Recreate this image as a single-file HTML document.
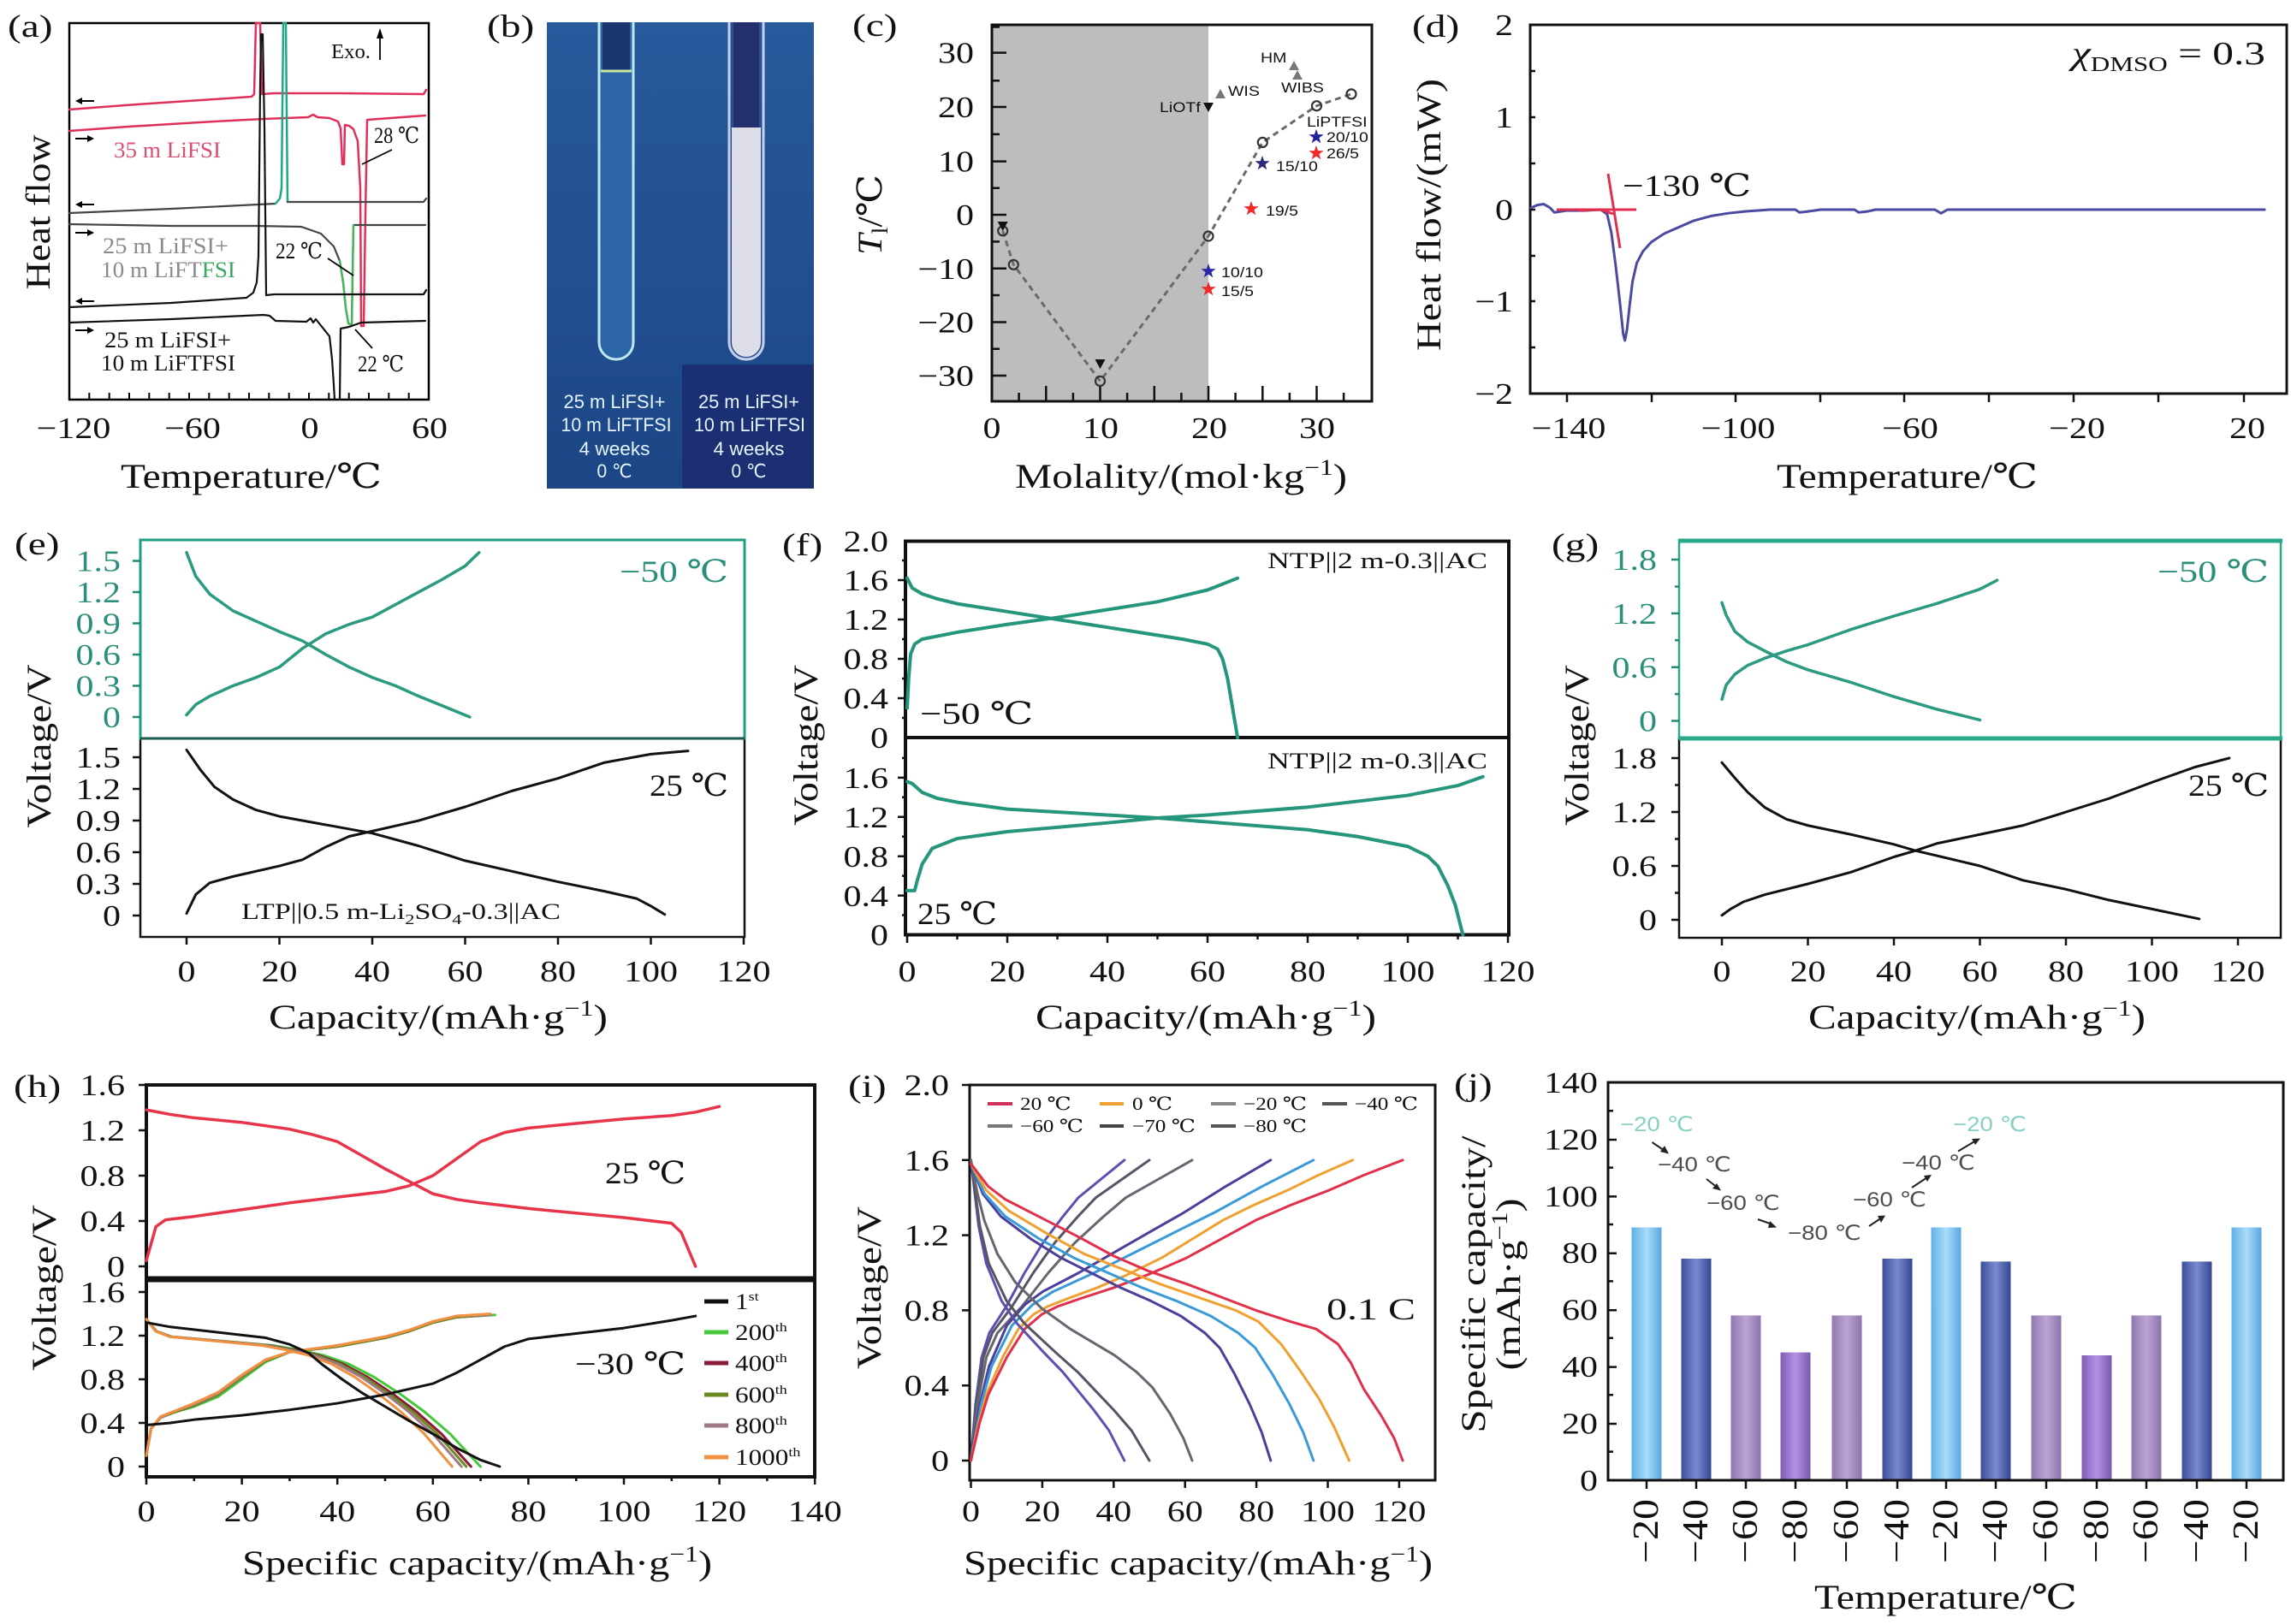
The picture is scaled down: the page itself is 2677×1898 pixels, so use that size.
<!DOCTYPE html>
<html><head><meta charset="utf-8">
<style>
html,body{margin:0;padding:0;background:#fff}
svg{display:block}
.t{font-family:"Liberation Serif","DejaVu Serif","Noto Serif CJK SC",serif;fill:#111}
.tk{font-size:35px}
.ax{font-size:40px}
.pl{font-size:37px}
.s{font-family:"Liberation Sans","DejaVu Sans","Noto Sans CJK SC",sans-serif}
.c{fill:none;stroke-linejoin:round;stroke-linecap:round;vector-effect:non-scaling-stroke}
.p{fill:none;stroke-linejoin:round;stroke-linecap:round}
</style></head><body>
<svg xmlns="http://www.w3.org/2000/svg" width="2677" height="1898" viewBox="0 0 2677 1898">
<defs>
<linearGradient id="bg" x1="0" y1="0" x2="0" y2="1"><stop offset="0" stop-color="#275a9c"/><stop offset="1" stop-color="#1c4686"/></linearGradient>
<linearGradient id="lb" x1="0" y1="0" x2="1" y2="0"><stop offset="0" stop-color="#5fb0e6"/><stop offset=".5" stop-color="#a9dcf8"/><stop offset="1" stop-color="#5aa6e0"/></linearGradient>
<linearGradient id="db" x1="0" y1="0" x2="1" y2="0"><stop offset="0" stop-color="#3c4f9c"/><stop offset=".5" stop-color="#7a8ad0"/><stop offset="1" stop-color="#34478f"/></linearGradient>
<linearGradient id="mv" x1="0" y1="0" x2="1" y2="0"><stop offset="0" stop-color="#9078b0"/><stop offset=".5" stop-color="#bba4d4"/><stop offset="1" stop-color="#8c74ad"/></linearGradient>
<linearGradient id="pp" x1="0" y1="0" x2="1" y2="0"><stop offset="0" stop-color="#7e5eb6"/><stop offset=".5" stop-color="#b292e0"/><stop offset="1" stop-color="#785aae"/></linearGradient>
<path id="star" d="M0,-9 L2.12,-2.91 L8.56,-2.78 L3.42,1.11 L5.29,7.28 L0,3.6 L-5.29,7.28 L-3.42,1.11 L-8.56,-2.78 L-2.12,-2.91 Z"/>
</defs>
<rect width="2677" height="1898" fill="#fff"/>

<!-- ================= (a) ================= -->
<g class="t">
<text class="pl" transform="translate(9 43) scale(1.28 1)">(a)</text>
<rect x="81" y="27" width="420" height="440" fill="none" stroke="#000" stroke-width="2.5"/>
<path d="M104.3 467V459M127.7 467V459M151 467V459M174.3 467V459M197.7 467V459M221 467V459M244.3 467V459M267.7 467V459M291 467V459M314.3 467V459M337.7 467V459M361 467V459M384.3 467V459M407.7 467V459M431 467V459M454.3 467V459M477.7 467V459" stroke="#000" stroke-width="2"/>
<polyline class="p" stroke="#e0305a" stroke-width="2.5" points="81,128 160,122 250,116 294,113 297,110 299,27 304,27 306,110 320,109 400,109 495,110 498,105"/>
<polyline class="p" stroke="#e0305a" stroke-width="2.5" points="81,153 150,148 250,142 308,139 360,137 366,134 371,137 385,138 395,142 398,150 400,192 402,192 403,146 408,147 413,151 418,165 421,220 422,381 425,381 427,250 429,140 497,135"/>
<polyline class="p" stroke="#444" stroke-width="2.2" points="81,249 200,244 322,238"/>
<polyline class="p" stroke="#1fa884" stroke-width="2.5" points="322,238 327,232 329,220 331,27 334,27 336,236"/>
<polyline class="p" stroke="#444" stroke-width="2.2" points="336,236 495,236 498,232"/>
<polyline class="p" stroke="#444" stroke-width="2.2" points="81,262 200,264 300,264 352,265 375,273 390,288 397,305 401,330 404,360 407,378 411,380 413,263 497,263"/>
<polyline class="p" stroke="#45b45a" stroke-width="2.5" points="397,305 401,330 404,360 407,378 411,380 413,263"/>
<polyline class="p" stroke="#111" stroke-width="2.2" points="81,359 200,354 288,348 296,342 300,330 302,300 304,100 305,40 307,40 309,150 311,345 320,344 495,344 498,339"/>
<polyline class="p" stroke="#111" stroke-width="2.2" points="81,377 200,373 308,368 315,369 322,375 358,376 363,372 366,377 369,373 373,378 385,393 388,420 390,450 391,467"/>
<polyline class="p" stroke="#111" stroke-width="2.2" points="397,467 398,384 408,382 422,377 497,375"/>
<path d="M458 175L423 192M383 302L413 322M415 385L435 407M444 70V42" stroke="#000" stroke-width="1.8" fill="none"/>
<polygon points="444,33 440,45 448,45" fill="#000"/>
<g stroke="#000" stroke-width="2"><path d="M93 118H110M93 239H110M93 352H110M88 162H105M88 272H105M88 386H105"/></g>
<g fill="#000"><polygon points="88,118 96,114 96,122"/><polygon points="88,239 96,235 96,243"/><polygon points="88,352 96,348 96,356"/><polygon points="110,162 102,158 102,166"/><polygon points="110,272 102,268 102,276"/><polygon points="110,386 102,382 102,390"/></g>
<text x="133" y="184" font-size="26" textLength="125" lengthAdjust="spacingAndGlyphs" fill="#d85070">35 m LiFSI</text>
<text x="120" y="296" font-size="26" textLength="147" lengthAdjust="spacingAndGlyphs" fill="#8a8a8a">25 m LiFSI+</text>
<text x="118" y="324" font-size="26" textLength="157" lengthAdjust="spacingAndGlyphs" fill="#8a8a8a">10 m LiFT<tspan fill="#3aa860">FSI</tspan></text>
<text x="122" y="406" font-size="26" textLength="148" lengthAdjust="spacingAndGlyphs">25 m LiFSI+</text>
<text x="118" y="433" font-size="26" textLength="157" lengthAdjust="spacingAndGlyphs">10 m LiFTFSI</text>
<text x="437" y="167" font-size="26" textLength="53" lengthAdjust="spacingAndGlyphs">28 ℃</text>
<text x="322" y="302" font-size="26" textLength="55" lengthAdjust="spacingAndGlyphs">22 ℃</text>
<text x="418" y="434" font-size="26" textLength="54" lengthAdjust="spacingAndGlyphs">22 ℃</text>
<text x="387" y="68" font-size="24" textLength="46" lengthAdjust="spacingAndGlyphs">Exo.</text>
<text class="tk" text-anchor="middle" transform="translate(86 512) scale(1.2 1)">−120</text>
<text class="tk" text-anchor="middle" transform="translate(225 512) scale(1.2 1)">−60</text>
<text class="tk" text-anchor="middle" transform="translate(362 512) scale(1.2 1)">0</text>
<text class="tk" text-anchor="middle" transform="translate(502 512) scale(1.2 1)">60</text>
<text class="ax" x="141" y="570" textLength="305" lengthAdjust="spacingAndGlyphs">Temperature/℃</text>
<text class="ax" text-anchor="middle" textLength="181" lengthAdjust="spacingAndGlyphs" transform="translate(58 248) rotate(-90)">Heat flow</text>
</g>

<!-- ================= (b) ================= -->
<g>
<text class="t pl" transform="translate(569 43) scale(1.28 1)">(b)</text>
<rect x="639" y="26" width="312" height="545" fill="url(#bg)"/>
<rect x="797" y="426" width="154" height="145" fill="#1b2c6e" opacity=".85"/>
<path d="M700,26 V400 A20,20 0 0 0 740,400 V26" fill="#2d66a6" stroke="#bfe9ef" stroke-width="3"/>
<rect x="704" y="26" width="32" height="57" fill="#1a3570"/>
<line x1="702" y1="83" x2="738" y2="83" stroke="#c8e8a0" stroke-width="3"/>
<path d="M852,26 V400 A20,20 0 0 0 892,400 V26" fill="#2a4f98" stroke="#c8d0ec" stroke-width="3"/>
<rect x="857" y="26" width="30" height="123" fill="#24306e"/>
<path d="M855,149 V400 A17,17 0 0 0 889,400 V149 Z" fill="#dcdde6"/>
<g class="s" fill="#e6f4ff" font-size="22" text-anchor="middle">
<text x="718" y="477" textLength="119" lengthAdjust="spacingAndGlyphs">25 m LiFSI+</text>
<text x="720" y="504" textLength="129" lengthAdjust="spacingAndGlyphs">10 m LiFTFSI</text>
<text x="718" y="532" textLength="83" lengthAdjust="spacingAndGlyphs">4 weeks</text>
<text x="718" y="558" textLength="41" lengthAdjust="spacingAndGlyphs">0 ℃</text>
<text x="875" y="477" textLength="118" lengthAdjust="spacingAndGlyphs">25 m LiFSI+</text>
<text x="876" y="504" textLength="130" lengthAdjust="spacingAndGlyphs">10 m LiFTFSI</text>
<text x="875" y="532" textLength="83" lengthAdjust="spacingAndGlyphs">4 weeks</text>
<text x="875" y="558" textLength="41" lengthAdjust="spacingAndGlyphs">0 ℃</text>
</g>
</g>

<!-- ================= (c) ================= -->
<g class="t">
<text class="pl" transform="translate(996 42) scale(1.28 1)">(c)</text>
<rect x="1159" y="29" width="253" height="440" fill="#bdbdbd"/>
<rect x="1159" y="29" width="444" height="440" fill="none" stroke="#111" stroke-width="3"/>
<path d="M1159 61.6H1176M1159 125H1176M1159 188.6H1176M1159 251H1176M1159 313.8H1176M1159 376.5H1176M1159 439H1176M1159 31.5H1168M1159 94.3H1168M1159 156.9H1168M1159 219.7H1168M1159 282.4H1168M1159 345H1168M1159 407.8H1168" stroke="#111" stroke-width="2.5"/>
<path d="M1190.6 469V459M1222.3 469V451M1253.9 469V459M1285.5 469V451M1317.1 469V459M1348.8 469V451M1380.4 469V459M1412 469V451M1443.6 469V459M1475.3 469V451M1506.9 469V459M1538.5 469V451M1570.1 469V459" stroke="#111" stroke-width="2.5"/>
<polyline points="1171.7,269.8 1184.3,309.3 1285.5,445.4 1412,276 1475.3,166.4 1538.5,123.7 1579,109.9" fill="none" stroke="#6a6a6a" stroke-width="3" stroke-dasharray="7,5"/>
<g fill="none" stroke="#333" stroke-width="2.2">
<circle cx="1171.7" cy="269.8" r="5.5"/><circle cx="1184.3" cy="309.3" r="5.5"/><circle cx="1285.5" cy="445.4" r="5.5"/><circle cx="1412" cy="276" r="5.5"/><circle cx="1475.3" cy="166.4" r="5.5"/><circle cx="1538.5" cy="123.7" r="5.5"/><circle cx="1579" cy="109.9" r="5.5"/>
</g>
<g fill="#111"><path d="M1165.7,259 h12 l-6,11 z"/><path d="M1279.5,420 h12 l-6,11 z"/><path d="M1406,120 h12 l-6,11 z"/></g>
<g fill="#777"><path d="M1420,115 h12 l-6,-11 z"/><path d="M1506,82 h12 l-6,-11 z"/><path d="M1510,93 h12 l-6,-11 z"/></g>
<use href="#star" x="1538" y="160" fill="#22229a"/>
<use href="#star" x="1538" y="179" fill="#f02828"/>
<use href="#star" x="1475" y="191" fill="#2a2a78"/>
<use href="#star" x="1462" y="244" fill="#f02828"/>
<use href="#star" x="1412" y="317" fill="#2828a8"/>
<use href="#star" x="1412" y="338" fill="#f02828"/>
<g class="s" font-size="17" fill="#111">
<text transform="translate(1473 73) scale(1.15 1)">HM</text>
<text transform="translate(1435 112) scale(1.15 1)">WIS</text>
<text transform="translate(1497 108) scale(1.15 1)">WIBS</text>
<text transform="translate(1355 131) scale(1.15 1)">LiOTf</text>
<text transform="translate(1527 148) scale(1.15 1)">LiPTFSI</text>
<text transform="translate(1550 166) scale(1.15 1)">20/10</text>
<text transform="translate(1550 185) scale(1.15 1)">26/5</text>
<text transform="translate(1491 200) scale(1.15 1)">15/10</text>
<text transform="translate(1479 252) scale(1.15 1)">19/5</text>
<text transform="translate(1427 324) scale(1.15 1)">10/10</text>
<text transform="translate(1427 346) scale(1.15 1)">15/5</text>
</g>
<g class="tk" text-anchor="end">
<text transform="translate(1138 73.6) scale(1.2 1)">30</text>
<text transform="translate(1138 137) scale(1.2 1)">20</text>
<text transform="translate(1138 200.6) scale(1.2 1)">10</text>
<text transform="translate(1138 263) scale(1.2 1)">0</text>
<text transform="translate(1138 325.8) scale(1.2 1)">−10</text>
<text transform="translate(1138 388.5) scale(1.2 1)">−20</text>
<text transform="translate(1138 451) scale(1.2 1)">−30</text>
</g>
<g class="tk" text-anchor="middle">
<text transform="translate(1159 512) scale(1.2 1)">0</text>
<text transform="translate(1286 512) scale(1.2 1)">10</text>
<text transform="translate(1413 512) scale(1.2 1)">20</text>
<text transform="translate(1539 512) scale(1.2 1)">30</text>
</g>
<text class="ax" x="1186" y="570" textLength="388" lengthAdjust="spacingAndGlyphs">Molality/(mol·kg<tspan font-size="26" dy="-15">−1</tspan><tspan dy="15">)</tspan></text>
<text class="ax" text-anchor="middle" textLength="94" lengthAdjust="spacingAndGlyphs" transform="translate(1030 251) rotate(-90)"><tspan font-style="italic">T</tspan><tspan font-size="26" dy="7">l</tspan><tspan dy="-7">/℃</tspan></text>
</g>

<!-- ================= (d) ================= -->
<g class="t">
<text class="pl" transform="translate(1650 43) scale(1.28 1)">(d)</text>
<rect x="1788" y="29" width="884" height="431" fill="none" stroke="#111" stroke-width="3"/>
<path d="M1831 460V470M1930 460V470M2028 460V470M2127 460V470M2225 460V470M2324 460V470M2423 460V470M2522 460V470M2622 460V470M1788 83H1794M1788 137H1794M1788 191H1794M1788 245H1794M1788 299H1794M1788 352H1794M1788 406H1794" stroke="#111" stroke-width="2.5"/>
<g transform="matrix(4.94 0 0 -107.7 2522.6 245)">
<polyline class="c" stroke="#4a4aa0" stroke-width="3" points="-148.5,.02 -147,.05 -145.5,.06 -144,.02 -143,-.03 -140,-.01 -136,-.01 -132,0 -130.5,-.05 -129.5,-.25 -128.5,-.6 -127.5,-1 -126.7,-1.35 -126.3,-1.42 -125.8,-1.3 -125.2,-1.05 -124.5,-.78 -123.5,-.58 -122,-.45 -120,-.35 -117,-.26 -114,-.2 -110,-.12 -106,-.07 -102,-.04 -98,-.02 -92,0 -86,0 -85,-.03 -83,-.02 -80,0 -72,0 -71,-.03 -69,-.02 -67,0 -53,0 -51.5,-.04 -50,0 -20,0 0,0 25,0"/>
</g>
<path d="M1819 245H1912M1879 203L1893 290M1845 246L1870 245L1885 250" stroke="#e03050" stroke-width="3" fill="none"/>
<g class="tk" text-anchor="end">
<text transform="translate(1768 41) scale(1.2 1)">2</text>
<text transform="translate(1768 149) scale(1.2 1)">1</text>
<text transform="translate(1768 257) scale(1.2 1)">0</text>
<text transform="translate(1768 364) scale(1.2 1)">−1</text>
<text transform="translate(1768 472) scale(1.2 1)">−2</text>
</g>
<g class="tk" text-anchor="middle">
<text transform="translate(1833 512) scale(1.2 1)">−140</text>
<text transform="translate(2031 512) scale(1.2 1)">−100</text>
<text transform="translate(2232 512) scale(1.2 1)">−60</text>
<text transform="translate(2427 512) scale(1.2 1)">−20</text>
<text transform="translate(2626 512) scale(1.2 1)">20</text>
</g>
<text x="1896" y="229" font-size="36" textLength="150" lengthAdjust="spacingAndGlyphs">−130 ℃</text>
<text x="2421" y="75" font-size="38" textLength="226" lengthAdjust="spacingAndGlyphs"><tspan font-style="italic">χ</tspan><tspan font-size="24" dy="8">DMSO</tspan><tspan dy="-8"> = 0.3</tspan></text>
<text class="ax" x="2076" y="570" textLength="305" lengthAdjust="spacingAndGlyphs">Temperature/℃</text>
<text class="ax" text-anchor="middle" textLength="318" lengthAdjust="spacingAndGlyphs" transform="translate(1683 251) rotate(-90)">Heat flow/(mW)</text>
</g>

<!-- ================= (e) ================= -->
<g class="t">
<text class="pl" transform="translate(17 648) scale(1.28 1)">(e)</text>
<rect x="164" y="863" width="706" height="232" fill="none" stroke="#111" stroke-width="2.5"/>
<rect x="164" y="631" width="706" height="232" fill="none" stroke="#1f9e83" stroke-width="3"/>
<line x1="164" y1="863" x2="870" y2="863" stroke="#1a5a4e" stroke-width="3"/>
<path d="M155 655.5H164M155 692H164M155 728.5H164M155 765H164M155 801.5H164M155 838H164" stroke="#1f8a74" stroke-width="2.5"/>
<path d="M155 885H164M155 922H164M155 959H164M155 996H164M155 1033H164M155 1070H164M218 1095V1104M326.5 1095V1104M435 1095V1104M543.5 1095V1104M652 1095V1104M760.5 1095V1104M869 1095V1104" stroke="#111" stroke-width="2.5"/>
<g transform="matrix(5.425 0 0 -121.7 218 838)">
<polyline class="c" stroke="#2a9a80" stroke-width="3.5" points="0,1.58 2,1.35 5,1.18 10,1.02 15,.92 20,.82 25,.73 30,.6 35,.48 40,.38 45,.3 50,.2 55,.11 61,0"/>
<polyline class="c" stroke="#2a9a80" stroke-width="3.5" points="0,.02 2,.12 5,.2 10,.3 15,.38 20,.48 25,.66 30,.8 35,.89 40,.96 45,1.08 50,1.2 55,1.32 60,1.45 63,1.58"/>
</g>
<g transform="matrix(5.425 0 0 -123.3 218 1070)">
<polyline class="c" stroke="#111" stroke-width="3" points="0,1.57 3,1.38 6,1.22 10,1.1 15,1 20,.94 30,.86 40,.78 50,.66 60,.52 70,.42 80,.32 90,.23 97,.16 100,.09 103,.01"/>
<polyline class="c" stroke="#111" stroke-width="3" points="0,.02 2,.2 5,.31 10,.37 20,.47 25,.53 30,.65 35,.75 40,.8 50,.9 60,1.03 70,1.18 80,1.3 90,1.45 100,1.53 108,1.56"/>
</g>
<g class="tk" text-anchor="end" fill="#2a8f7a">
<text transform="translate(141 667.5) scale(1.2 1)">1.5</text>
<text transform="translate(141 704) scale(1.2 1)">1.2</text>
<text transform="translate(141 740.5) scale(1.2 1)">0.9</text>
<text transform="translate(141 777) scale(1.2 1)">0.6</text>
<text transform="translate(141 813.5) scale(1.2 1)">0.3</text>
<text transform="translate(141 850) scale(1.2 1)">0</text>
</g>
<g class="tk" text-anchor="end">
<text transform="translate(141 897) scale(1.2 1)">1.5</text>
<text transform="translate(141 934) scale(1.2 1)">1.2</text>
<text transform="translate(141 971) scale(1.2 1)">0.9</text>
<text transform="translate(141 1008) scale(1.2 1)">0.6</text>
<text transform="translate(141 1045) scale(1.2 1)">0.3</text>
<text transform="translate(141 1082) scale(1.2 1)">0</text>
</g>
<g class="tk" text-anchor="middle">
<text transform="translate(218 1147) scale(1.2 1)">0</text>
<text transform="translate(326.5 1147) scale(1.2 1)">20</text>
<text transform="translate(435 1147) scale(1.2 1)">40</text>
<text transform="translate(543.5 1147) scale(1.2 1)">60</text>
<text transform="translate(652 1147) scale(1.2 1)">80</text>
<text transform="translate(760.5 1147) scale(1.2 1)">100</text>
<text transform="translate(869 1147) scale(1.2 1)">120</text>
</g>
<text x="724" y="680" font-size="36" textLength="127" lengthAdjust="spacingAndGlyphs" fill="#2a8f7a">−50 ℃</text>
<text x="759" y="930" font-size="36" textLength="92" lengthAdjust="spacingAndGlyphs">25 ℃</text>
<text x="282" y="1074" font-size="26" textLength="373" lengthAdjust="spacingAndGlyphs">LTP||0.5 m-Li<tspan font-size="17" dy="6">2</tspan><tspan dy="-6">SO</tspan><tspan font-size="17" dy="6">4</tspan><tspan dy="-6">-0.3||AC</tspan></text>
<text class="ax" x="314" y="1202" textLength="396" lengthAdjust="spacingAndGlyphs">Capacity/(mAh·g<tspan font-size="26" dy="-15">−1</tspan><tspan dy="15">)</tspan></text>
<text class="ax" text-anchor="middle" textLength="191" lengthAdjust="spacingAndGlyphs" transform="translate(59 872) rotate(-90)">Voltage/V</text>
</g>

<!-- ================= (f) ================= -->
<g class="t">
<text class="pl" transform="translate(914 649) scale(1.28 1)">(f)</text>
<rect x="1058" y="632.5" width="705" height="229.5" fill="none" stroke="#111" stroke-width="4"/>
<rect x="1058" y="862" width="705" height="230.5" fill="none" stroke="#111" stroke-width="4"/>
<path d="M1049 678H1058M1049 724H1058M1049 770H1058M1049 816H1058M1049 908.9H1058M1049 954.8H1058M1049 1000.7H1058M1049 1046.6H1058M1054 655H1058M1054 701H1058M1054 747H1058M1054 793H1058M1054 839H1058M1054 885.9H1058M1054 931.8H1058M1054 977.7H1058M1054 1023.6H1058M1054 1069.5H1058" stroke="#111" stroke-width="2.5"/>
<path d="M1060 1092.5V1102M1177 1092.5V1102M1294 1092.5V1102M1411 1092.5V1102M1528 1092.5V1102M1645 1092.5V1102M1762 1092.5V1102M1118.5 1092.5V1098M1235.5 1092.5V1098M1352.5 1092.5V1098M1469.5 1092.5V1098M1586.5 1092.5V1098M1703.5 1092.5V1098" stroke="#111" stroke-width="2.5"/>
<g transform="matrix(5.85 0 0 -115 1060 862)">
<polyline class="c" stroke="#25957b" stroke-width="4" points="0,.3 .3,.6 .7,.85 1.5,.95 3,1 10,1.07 20,1.15 30,1.22 40,1.3 50,1.38 60,1.5 66,1.62"/>
<polyline class="c" stroke="#25957b" stroke-width="4" points="0,1.62 1,1.52 3,1.46 6,1.41 10,1.36 20,1.28 30,1.2 40,1.12 50,1.04 55,1 60,.95 62,.9 63,.8 64,.6 65,.3 66,0"/>
</g>
<g transform="matrix(5.85 0 0 -114.75 1060 1092.5)">
<polyline class="c" stroke="#25957b" stroke-width="4" points="0,.45 1.5,.45 2,.55 3,.72 5,.88 10,.98 20,1.05 40,1.14 50,1.19 60,1.22 80,1.3 100,1.42 110,1.52 115,1.61"/>
<polyline class="c" stroke="#25957b" stroke-width="4" points="0,1.56 1,1.54 3,1.45 6,1.39 10,1.35 20,1.28 40,1.22 50,1.19 60,1.15 80,1.07 90,1 100,.9 104,.8 106,.7 108,.5 109.5,.3 111,0"/>
</g>
<g class="tk" text-anchor="end">
<text transform="translate(1038 644.5) scale(1.2 1)">2.0</text>
<text transform="translate(1038 690) scale(1.2 1)">1.6</text>
<text transform="translate(1038 736) scale(1.2 1)">1.2</text>
<text transform="translate(1038 782) scale(1.2 1)">0.8</text>
<text transform="translate(1038 828) scale(1.2 1)">0.4</text>
<text transform="translate(1038 874) scale(1.2 1)">0</text>
<text transform="translate(1038 921) scale(1.2 1)">1.6</text>
<text transform="translate(1038 967) scale(1.2 1)">1.2</text>
<text transform="translate(1038 1013) scale(1.2 1)">0.8</text>
<text transform="translate(1038 1059) scale(1.2 1)">0.4</text>
<text transform="translate(1038 1104.5) scale(1.2 1)">0</text>
</g>
<g class="tk" text-anchor="middle">
<text transform="translate(1060 1147) scale(1.2 1)">0</text>
<text transform="translate(1177 1147) scale(1.2 1)">20</text>
<text transform="translate(1294 1147) scale(1.2 1)">40</text>
<text transform="translate(1411 1147) scale(1.2 1)">60</text>
<text transform="translate(1528 1147) scale(1.2 1)">80</text>
<text transform="translate(1645 1147) scale(1.2 1)">100</text>
<text transform="translate(1762 1147) scale(1.2 1)">120</text>
</g>
<text x="1481" y="664" font-size="26" textLength="257" lengthAdjust="spacingAndGlyphs">NTP||2 m-0.3||AC</text>
<text x="1481" y="898" font-size="26" textLength="257" lengthAdjust="spacingAndGlyphs">NTP||2 m-0.3||AC</text>
<text x="1075" y="846" font-size="36" textLength="132" lengthAdjust="spacingAndGlyphs">−50 ℃</text>
<text x="1072" y="1080" font-size="36" textLength="93" lengthAdjust="spacingAndGlyphs">25 ℃</text>
<text class="ax" x="1210" y="1202" textLength="398" lengthAdjust="spacingAndGlyphs">Capacity/(mAh·g<tspan font-size="26" dy="-15">−1</tspan><tspan dy="15">)</tspan></text>
<text class="ax" text-anchor="middle" textLength="188" lengthAdjust="spacingAndGlyphs" transform="translate(955 871) rotate(-90)">Voltage/V</text>
</g>

<!-- ================= (g) ================= -->
<g class="t">
<text class="pl" transform="translate(1813 649) scale(1.28 1)">(g)</text>
<rect x="1962" y="863" width="703" height="233" fill="none" stroke="#111" stroke-width="2.5"/>
<rect x="1962" y="631" width="703" height="232" fill="none" stroke="#2aa88a" stroke-width="2.5"/>
<path d="M1962 632H2667M1962 863H2667" stroke="#2aa88a" stroke-width="5"/>
<path d="M1953 654H1962M1953 716.9H1962M1953 779.7H1962M1953 842.5H1962M1957 685.5H1962M1957 748.3H1962M1957 811.1H1962" stroke="#1f8a74" stroke-width="2.5"/>
<path d="M1953 886H1962M1953 949H1962M1953 1012H1962M1953 1075H1962M1957 917.5H1962M1957 980.5H1962M1957 1043.5H1962M2012 1096V1105M2112.5 1096V1105M2213 1096V1105M2313.5 1096V1105M2414 1096V1105M2514.5 1096V1105M2615 1096V1105" stroke="#111" stroke-width="2.5"/>
<g transform="matrix(5.025 0 0 -104.7 2012 842.5)">
<polyline class="c" stroke="#2a9a80" stroke-width="3.5" points="0,1.32 1,1.18 3,1 6,.88 10,.78 15,.66 20,.57 30,.43 40,.27 50,.13 60,.01"/>
<polyline class="c" stroke="#2a9a80" stroke-width="3.5" points="0,.24 1,.4 3,.52 6,.62 10,.7 15,.78 20,.85 30,1.02 40,1.17 50,1.31 60,1.47 64,1.57"/>
</g>
<g transform="matrix(5.025 0 0 -105 2012 1075)">
<polyline class="c" stroke="#111" stroke-width="3" points="0,1.75 3,1.58 6,1.42 10,1.25 15,1.12 20,1.05 30,.95 40,.84 45,.77 60,.6 70,.44 80,.34 90,.22 100,.12 111,.01"/>
<polyline class="c" stroke="#111" stroke-width="3" points="0,.05 2,.12 5,.2 10,.28 20,.4 30,.53 40,.7 45,.77 50,.85 60,.95 70,1.05 80,1.2 90,1.35 100,1.53 110,1.7 118,1.8"/>
</g>
<g class="tk" text-anchor="end" fill="#2a8f7a">
<text transform="translate(1936 666) scale(1.2 1)">1.8</text>
<text transform="translate(1936 729) scale(1.2 1)">1.2</text>
<text transform="translate(1936 792) scale(1.2 1)">0.6</text>
<text transform="translate(1936 854.5) scale(1.2 1)">0</text>
</g>
<g class="tk" text-anchor="end">
<text transform="translate(1936 898) scale(1.2 1)">1.8</text>
<text transform="translate(1936 961) scale(1.2 1)">1.2</text>
<text transform="translate(1936 1024) scale(1.2 1)">0.6</text>
<text transform="translate(1936 1087) scale(1.2 1)">0</text>
</g>
<g class="tk" text-anchor="middle">
<text transform="translate(2012 1147) scale(1.2 1)">0</text>
<text transform="translate(2112.5 1147) scale(1.2 1)">20</text>
<text transform="translate(2213 1147) scale(1.2 1)">40</text>
<text transform="translate(2313.5 1147) scale(1.2 1)">60</text>
<text transform="translate(2414 1147) scale(1.2 1)">80</text>
<text transform="translate(2514.5 1147) scale(1.2 1)">100</text>
<text transform="translate(2615 1147) scale(1.2 1)">120</text>
</g>
<text x="2521" y="680" font-size="36" textLength="130" lengthAdjust="spacingAndGlyphs" fill="#2a8f7a">−50 ℃</text>
<text x="2557" y="930" font-size="36" textLength="94" lengthAdjust="spacingAndGlyphs">25 ℃</text>
<text class="ax" x="2113" y="1202" textLength="394" lengthAdjust="spacingAndGlyphs">Capacity/(mAh·g<tspan font-size="26" dy="-15">−1</tspan><tspan dy="15">)</tspan></text>
<text class="ax" text-anchor="middle" textLength="188" lengthAdjust="spacingAndGlyphs" transform="translate(1856 871) rotate(-90)">Voltage/V</text>
</g>

<!-- ================= (h) ================= -->
<g class="t">
<text class="pl" transform="translate(16 1282) scale(1.28 1)">(h)</text>
<rect x="171" y="1268" width="781" height="458" fill="none" stroke="#111" stroke-width="4"/>
<line x1="171" y1="1495" x2="952" y2="1495" stroke="#111" stroke-width="7"/>
<path d="M162 1268H171M162 1321H171M162 1374H171M162 1427H171M162 1480H171M162 1510H171M162 1561H171M162 1612H171M162 1663H171M162 1714H171" stroke="#111" stroke-width="2.5"/>
<path d="M171 1726V1735M282.6 1726V1735M394.2 1726V1735M505.8 1726V1735M617.4 1726V1735M729 1726V1735M840.6 1726V1735M952.2 1726V1735M226.8 1726V1731M338.4 1726V1731M450 1726V1731M561.6 1726V1731M673.2 1726V1731M784.8 1726V1731M896.4 1726V1731" stroke="#111" stroke-width="2.5"/>
<g transform="matrix(5.58 0 0 -132.5 171 1480)">
<polyline class="c" stroke="#e8344a" stroke-width="3.5" points="0,1.38 5,1.34 10,1.31 20,1.27 30,1.21 35,1.16 40,1.1 45,.98 50,.86 55,.75 60,.64 65,.59 70,.56 80,.51 90,.47 100,.43 110,.38 112,.3 115,0"/>
<polyline class="c" stroke="#e8344a" stroke-width="3.5" points="0,.05 1,.2 2,.35 4,.41 10,.44 20,.5 30,.56 40,.61 50,.66 55,.71 60,.8 65,.95 70,1.1 75,1.18 80,1.22 90,1.26 100,1.3 110,1.33 115,1.36 120,1.41"/>
</g>
<g transform="matrix(5.58 0 0 -127.5 171 1714)">
<polyline class="c" stroke="#44c83a" stroke-width="3" points="0,.1 1,.35 3,.45 6,.5 10,.55 15,.64 20,.8 25,.96 30,1.05 40,1.1 50,1.18 55,1.24 60,1.32 65,1.37 73,1.39"/>
<polyline class="c" stroke="#8b1a3a" stroke-width="3" points="0,.1 1,.35 3,.45 6,.5 10,.56 15,.66 20,.82 25,.97 30,1.05 40,1.1 50,1.18 55,1.24 60,1.32 65,1.37 72,1.39"/>
<polyline class="c" stroke="#6a8a20" stroke-width="3" points="0,.1 1,.35 3,.45 6,.5 10,.56 15,.66 20,.82 25,.97 30,1.05 40,1.1 50,1.18 55,1.24 60,1.32 65,1.37 72,1.39"/>
<polyline class="c" stroke="#a07888" stroke-width="3" points="0,.1 1,.35 3,.45 6,.51 10,.57 15,.67 20,.83 25,.98 30,1.05 40,1.11 50,1.19 55,1.25 60,1.33 65,1.38 72,1.39"/>
<polyline class="c" stroke="#f09040" stroke-width="3" points="0,.1 1,.35 3,.46 6,.51 10,.58 15,.68 20,.84 25,.98 30,1.05 40,1.11 50,1.19 55,1.25 60,1.33 65,1.38 72,1.4"/>
</g>
<g transform="matrix(5.915 0 0 -127.5 171 1714)"><polyline class="c" stroke="#44c83a" stroke-width="3" points="0,1.35 2,1.24 5,1.19 15,1.15 25,1.11 30,1.07 35,1.02 40,.94 45,.82 50,.67 55,.5 60,.3 64,.1 66,0"/></g>
<g transform="matrix(5.747 0 0 -127.5 171 1714)"><polyline class="c" stroke="#8b1a3a" stroke-width="3" points="0,1.35 2,1.24 5,1.19 15,1.15 25,1.11 30,1.07 35,1.02 40,.94 45,.82 50,.67 55,.5 60,.3 64,.1 66,0"/></g>
<g transform="matrix(5.664 0 0 -127.5 171 1714)"><polyline class="c" stroke="#6a8a20" stroke-width="3" points="0,1.35 2,1.24 5,1.19 15,1.15 25,1.11 30,1.07 35,1.02 40,.94 45,.82 50,.67 55,.5 60,.3 64,.1 66,0"/></g>
<g transform="matrix(5.58 0 0 -127.5 171 1714)"><polyline class="c" stroke="#a07888" stroke-width="3" points="0,1.35 2,1.24 5,1.19 15,1.15 25,1.11 30,1.07 35,1.02 40,.94 45,.82 50,.67 55,.5 60,.3 64,.1 66,0"/></g>
<g transform="matrix(5.413 0 0 -127.5 171 1714)"><polyline class="c" stroke="#f09040" stroke-width="3" points="0,1.35 2,1.24 5,1.19 15,1.15 25,1.11 30,1.07 35,1.02 40,.94 45,.82 50,.67 55,.5 60,.3 64,.1 66,0"/></g>
<g transform="matrix(5.58 0 0 -127.5 171 1714)">
<polyline class="c" stroke="#111" stroke-width="3" points="0,.38 5,.4 10,.43 20,.47 30,.52 40,.58 50,.66 55,.71 60,.76 65,.86 70,.98 75,1.1 80,1.17 90,1.22 100,1.27 110,1.34 115,1.38"/>
<polyline class="c" stroke="#111" stroke-width="3" points="0,1.32 5,1.28 15,1.23 25,1.18 30,1.12 34,1.04 37,.93 41,.8 45,.68 50,.55 55,.42 60,.3 65,.17 70,.06 74,0"/>
</g>
<g stroke-width="5"><path d="M823 1521H851" stroke="#111"/><path d="M823 1557H851" stroke="#44c83a"/><path d="M823 1593H851" stroke="#8b1a3a"/><path d="M823 1630H851" stroke="#6a8a20"/><path d="M823 1666H851" stroke="#a07888"/><path d="M823 1703H851" stroke="#f09040"/></g>
<g font-size="26">
<text transform="translate(859 1530) scale(1.2 1)">1<tspan font-size="15" dy="-10">st</tspan></text>
<text transform="translate(859 1566) scale(1.2 1)">200<tspan font-size="15" dy="-10">th</tspan></text>
<text transform="translate(859 1602) scale(1.2 1)">400<tspan font-size="15" dy="-10">th</tspan></text>
<text transform="translate(859 1639) scale(1.2 1)">600<tspan font-size="15" dy="-10">th</tspan></text>
<text transform="translate(859 1675) scale(1.2 1)">800<tspan font-size="15" dy="-10">th</tspan></text>
<text transform="translate(859 1712) scale(1.2 1)">1000<tspan font-size="15" dy="-10">th</tspan></text>
</g>
<g class="tk" text-anchor="end">
<text transform="translate(146 1280) scale(1.2 1)">1.6</text>
<text transform="translate(146 1333) scale(1.2 1)">1.2</text>
<text transform="translate(146 1386) scale(1.2 1)">0.8</text>
<text transform="translate(146 1439) scale(1.2 1)">0.4</text>
<text transform="translate(146 1492) scale(1.2 1)">0</text>
<text transform="translate(146 1522) scale(1.2 1)">1.6</text>
<text transform="translate(146 1573) scale(1.2 1)">1.2</text>
<text transform="translate(146 1624) scale(1.2 1)">0.8</text>
<text transform="translate(146 1675) scale(1.2 1)">0.4</text>
<text transform="translate(146 1726) scale(1.2 1)">0</text>
</g>
<g class="tk" text-anchor="middle">
<text transform="translate(171 1778) scale(1.2 1)">0</text>
<text transform="translate(282.6 1778) scale(1.2 1)">20</text>
<text transform="translate(394.2 1778) scale(1.2 1)">40</text>
<text transform="translate(505.8 1778) scale(1.2 1)">60</text>
<text transform="translate(617.4 1778) scale(1.2 1)">80</text>
<text transform="translate(729 1778) scale(1.2 1)">100</text>
<text transform="translate(840.6 1778) scale(1.2 1)">120</text>
<text transform="translate(952.2 1778) scale(1.2 1)">140</text>
</g>
<text x="707" y="1383" font-size="36" textLength="94" lengthAdjust="spacingAndGlyphs">25 ℃</text>
<text x="672" y="1606" font-size="36" textLength="129" lengthAdjust="spacingAndGlyphs">−30 ℃</text>
<text class="ax" x="283" y="1840" textLength="549" lengthAdjust="spacingAndGlyphs">Specific capacity/(mAh·g<tspan font-size="26" dy="-15">−1</tspan><tspan dy="15">)</tspan></text>
<text class="ax" text-anchor="middle" textLength="194" lengthAdjust="spacingAndGlyphs" transform="translate(65 1505) rotate(-90)">Voltage/V</text>
</g>

<!-- ================= (i) ================= -->
<g class="t">
<text class="pl" transform="translate(991 1282) scale(1.28 1)">(i)</text>
<rect x="1133" y="1268" width="544" height="462" fill="none" stroke="#111" stroke-width="3"/>
<path d="M1124 1268H1133M1124 1355.8H1133M1124 1443.6H1133M1124 1531.4H1133M1124 1619.2H1133M1124 1707H1133M1134.5 1730V1739M1217.9 1730V1739M1301.3 1730V1739M1384.7 1730V1739M1468.1 1730V1739M1551.5 1730V1739M1634.9 1730V1739" stroke="#111" stroke-width="2.5"/>
<!-- charge curves -->
<g transform="matrix(179.31 0 0 -219.5 1134.5 1707)"><polyline class="c" stroke="#5a50b0" stroke-width="3" points="0,0 .03,.3 .07,.55 .12,.68 .23,.82 .35,1 .47,1.16 .6,1.3 .7,1.4 .85,1.5 1,1.6"/></g>
<g transform="matrix(208.5 0 0 -219.5 1134.5 1707)"><polyline class="c" stroke="#555566" stroke-width="3" points="0,0 .03,.3 .07,.55 .12,.68 .23,.82 .35,1 .47,1.16 .6,1.3 .7,1.4 .85,1.5 1,1.6"/></g>
<g transform="matrix(258.54 0 0 -219.5 1134.5 1707)"><polyline class="c" stroke="#666670" stroke-width="3" points="0,0 .03,.3 .07,.55 .12,.68 .23,.82 .35,1 .47,1.16 .6,1.3 .7,1.4 .85,1.5 1,1.6"/></g>
<g transform="matrix(350.28 0 0 -219.5 1134.5 1707)"><polyline class="c" stroke="#4b3f9c" stroke-width="3" points="0,0 .03,.3 .06,.5 .12,.72 .18,.83 .24,.9 .36,1 .48,1.11 .6,1.22 .71,1.32 .85,1.46 1,1.6"/></g>
<g transform="matrix(400.32 0 0 -219.5 1134.5 1707)"><polyline class="c" stroke="#3a9ad8" stroke-width="3" points="0,0 .03,.3 .06,.5 .12,.72 .18,.83 .24,.9 .36,1 .48,1.11 .6,1.22 .71,1.32 .85,1.46 1,1.6"/></g>
<g transform="matrix(446.19 0 0 -219.5 1134.5 1707)"><polyline class="c" stroke="#f0a030" stroke-width="3" points="0,0 .02,.2 .04,.35 .083,.55 .124,.7 .165,.78 .2,.82 .25,.86 .33,.92 .41,.99 .5,1.08 .58,1.18 .66,1.28 .74,1.36 .83,1.44 .91,1.52 1,1.6"/></g>
<g transform="matrix(504.57 0 0 -219.5 1134.5 1707)"><polyline class="c" stroke="#e0304a" stroke-width="3" points="0,0 .02,.2 .04,.35 .083,.55 .124,.7 .165,.78 .2,.82 .25,.86 .33,.92 .41,.99 .5,1.08 .58,1.18 .66,1.28 .74,1.36 .83,1.44 .91,1.52 1,1.6"/></g>
<!-- discharge curves -->
<g transform="matrix(179.31 0 0 -219.5 1134.5 1707)"><polyline class="c" stroke="#5a50b0" stroke-width="3" points="0,1.6 .05,1.25 .1,1.05 .2,.85 .3,.73 .47,.58 .6,.47 .7,.37 .8,.27 .9,.16 1,0"/></g>
<g transform="matrix(208.5 0 0 -219.5 1134.5 1707)"><polyline class="c" stroke="#555566" stroke-width="3" points="0,1.6 .05,1.25 .1,1.05 .2,.85 .3,.73 .47,.58 .6,.47 .7,.37 .8,.27 .9,.16 1,0"/></g>
<g transform="matrix(258.54 0 0 -219.5 1134.5 1707)"><polyline class="c" stroke="#666670" stroke-width="3" points="0,1.6 .03,1.42 .06,1.28 .12,1.1 .2,.95 .32,.81 .45,.7 .55,.63 .65,.56 .75,.47 .82,.39 .9,.25 .96,.12 1,0"/></g>
<g transform="matrix(350.28 0 0 -219.5 1134.5 1707)"><polyline class="c" stroke="#4b3f9c" stroke-width="3" points="0,1.58 .04,1.42 .1,1.3 .2,1.18 .3,1.08 .4,1 .5,.92 .6,.85 .7,.77 .78,.68 .83,.6 .88,.46 .93,.3 .97,.15 1,0"/></g>
<g transform="matrix(400.32 0 0 -219.5 1134.5 1707)"><polyline class="c" stroke="#3a9ad8" stroke-width="3" points="0,1.58 .04,1.42 .1,1.3 .2,1.18 .3,1.08 .4,1 .5,.92 .6,.85 .7,.77 .78,.68 .83,.6 .88,.46 .93,.3 .97,.15 1,0"/></g>
<g transform="matrix(442 0 0 -219.5 1134.5 1707)"><polyline class="c" stroke="#f0a030" stroke-width="3" points="0,1.58 .04,1.44 .1,1.33 .2,1.21 .3,1.1 .4,1.02 .5,.94 .6,.87 .7,.8 .76,.74 .82,.62 .87,.48 .92,.33 .96,.18 1,0"/></g>
<g transform="matrix(504.57 0 0 -219.5 1134.5 1707)"><polyline class="c" stroke="#e0304a" stroke-width="3" points="0,1.58 .04,1.46 .08,1.39 .165,1.29 .25,1.19 .33,1.09 .41,1.01 .5,.94 .58,.87 .66,.8 .74,.74 .8,.7 .85,.62 .88,.52 .91,.38 .95,.24 .98,.12 1,0"/></g>
<g stroke-width="4">
<path d="M1154 1290H1183" stroke="#d0305a"/><path d="M1285 1290H1313" stroke="#f0a030"/><path d="M1415 1290H1444" stroke="#888"/><path d="M1545 1290H1574" stroke="#555"/>
<path d="M1154 1316H1183" stroke="#777"/><path d="M1285 1316H1313" stroke="#444"/><path d="M1415 1316H1444" stroke="#555"/>
</g>
<g font-size="21">
<text transform="translate(1192 1297) scale(1.2 1)">20 ℃</text>
<text transform="translate(1323 1297) scale(1.2 1)">0 ℃</text>
<text transform="translate(1453 1297) scale(1.2 1)">−20 ℃</text>
<text transform="translate(1583 1297) scale(1.2 1)">−40 ℃</text>
<text transform="translate(1192 1323) scale(1.2 1)">−60 ℃</text>
<text transform="translate(1323 1323) scale(1.2 1)">−70 ℃</text>
<text transform="translate(1453 1323) scale(1.2 1)">−80 ℃</text>
</g>
<g class="tk" text-anchor="end">
<text transform="translate(1109 1280) scale(1.2 1)">2.0</text>
<text transform="translate(1109 1367.8) scale(1.2 1)">1.6</text>
<text transform="translate(1109 1455.6) scale(1.2 1)">1.2</text>
<text transform="translate(1109 1543.4) scale(1.2 1)">0.8</text>
<text transform="translate(1109 1631.2) scale(1.2 1)">0.4</text>
<text transform="translate(1109 1719) scale(1.2 1)">0</text>
</g>
<g class="tk" text-anchor="middle">
<text transform="translate(1134.5 1778) scale(1.2 1)">0</text>
<text transform="translate(1217.9 1778) scale(1.2 1)">20</text>
<text transform="translate(1301.3 1778) scale(1.2 1)">40</text>
<text transform="translate(1384.7 1778) scale(1.2 1)">60</text>
<text transform="translate(1468.1 1778) scale(1.2 1)">80</text>
<text transform="translate(1551.5 1778) scale(1.2 1)">100</text>
<text transform="translate(1634.9 1778) scale(1.2 1)">120</text>
</g>
<text x="1550" y="1542" font-size="36" textLength="104" lengthAdjust="spacingAndGlyphs">0.1 C</text>
<text class="ax" x="1126" y="1840" textLength="548" lengthAdjust="spacingAndGlyphs">Specific capacity/(mAh·g<tspan font-size="26" dy="-15">−1</tspan><tspan dy="15">)</tspan></text>
<text class="ax" text-anchor="middle" textLength="190" lengthAdjust="spacingAndGlyphs" transform="translate(1029 1505) rotate(-90)">Voltage/V</text>
</g>

<!-- ================= (j) ================= -->
<g class="t">
<text class="pl" transform="translate(1699 1280) scale(1.28 1)">(j)</text>
<rect x="1906.5" y="1434.5" width="35" height="295.5" fill="url(#lb)"/>
<rect x="1964.5" y="1471" width="35" height="259" fill="url(#db)"/>
<rect x="2022.5" y="1537.4" width="35" height="192.6" fill="url(#mv)"/>
<rect x="2080.5" y="1580.6" width="35" height="149.4" fill="url(#pp)"/>
<rect x="2140.5" y="1537.4" width="35" height="192.6" fill="url(#mv)"/>
<rect x="2199.5" y="1471" width="35" height="259" fill="url(#db)"/>
<rect x="2256.5" y="1434.5" width="35" height="295.5" fill="url(#lb)"/>
<rect x="2314.5" y="1474.4" width="35" height="255.6" fill="url(#db)"/>
<rect x="2373.5" y="1537.4" width="35" height="192.6" fill="url(#mv)"/>
<rect x="2432.5" y="1584" width="35" height="146" fill="url(#pp)"/>
<rect x="2490.5" y="1537.4" width="35" height="192.6" fill="url(#mv)"/>
<rect x="2549.5" y="1474.4" width="35" height="255.6" fill="url(#db)"/>
<rect x="2607.5" y="1434.5" width="35" height="295.5" fill="url(#lb)"/>
<rect x="1879" y="1265" width="789" height="465" fill="none" stroke="#111" stroke-width="3"/>
<path d="M1879 1332H1889M1879 1398.4H1889M1879 1464.8H1889M1879 1531.2H1889M1879 1597.6H1889M1879 1664H1889M1879 1298.2H1885M1879 1364.6H1885M1879 1431H1885M1879 1497.4H1885M1879 1563.8H1885M1879 1630.2H1885M1879 1696.6H1885" stroke="#111" stroke-width="2.5"/>
<path d="M1924 1730V1740M1982 1730V1740M2040 1730V1740M2098 1730V1740M2158 1730V1740M2217 1730V1740M2274 1730V1740M2332 1730V1740M2391 1730V1740M2450 1730V1740M2508 1730V1740M2567 1730V1740M2625 1730V1740" stroke="#111" stroke-width="2.5"/>
<g class="tk" text-anchor="end">
<text transform="translate(1867 1277) scale(1.2 1)">140</text>
<text transform="translate(1867 1343.4) scale(1.2 1)">120</text>
<text transform="translate(1867 1409.8) scale(1.2 1)">100</text>
<text transform="translate(1867 1476.2) scale(1.2 1)">80</text>
<text transform="translate(1867 1542.6) scale(1.2 1)">60</text>
<text transform="translate(1867 1609) scale(1.2 1)">40</text>
<text transform="translate(1867 1675.4) scale(1.2 1)">20</text>
<text transform="translate(1867 1742) scale(1.2 1)">0</text>
</g>
<g class="tk" text-anchor="end">
<text textLength="75" lengthAdjust="spacingAndGlyphs" transform="translate(1937 1752) rotate(-90) scale(1 1.2)">−20</text>
<text textLength="75" lengthAdjust="spacingAndGlyphs" transform="translate(1995 1752) rotate(-90) scale(1 1.2)">−40</text>
<text textLength="75" lengthAdjust="spacingAndGlyphs" transform="translate(2053 1752) rotate(-90) scale(1 1.2)">−60</text>
<text textLength="75" lengthAdjust="spacingAndGlyphs" transform="translate(2111 1752) rotate(-90) scale(1 1.2)">−80</text>
<text textLength="75" lengthAdjust="spacingAndGlyphs" transform="translate(2171 1752) rotate(-90) scale(1 1.2)">−60</text>
<text textLength="75" lengthAdjust="spacingAndGlyphs" transform="translate(2230 1752) rotate(-90) scale(1 1.2)">−40</text>
<text textLength="75" lengthAdjust="spacingAndGlyphs" transform="translate(2287 1752) rotate(-90) scale(1 1.2)">−20</text>
<text textLength="75" lengthAdjust="spacingAndGlyphs" transform="translate(2345 1752) rotate(-90) scale(1 1.2)">−40</text>
<text textLength="75" lengthAdjust="spacingAndGlyphs" transform="translate(2404 1752) rotate(-90) scale(1 1.2)">−60</text>
<text textLength="75" lengthAdjust="spacingAndGlyphs" transform="translate(2463 1752) rotate(-90) scale(1 1.2)">−80</text>
<text textLength="75" lengthAdjust="spacingAndGlyphs" transform="translate(2521 1752) rotate(-90) scale(1 1.2)">−60</text>
<text textLength="75" lengthAdjust="spacingAndGlyphs" transform="translate(2580 1752) rotate(-90) scale(1 1.2)">−40</text>
<text textLength="75" lengthAdjust="spacingAndGlyphs" transform="translate(2638 1752) rotate(-90) scale(1 1.2)">−20</text>
</g>
<g class="s" font-size="24">
<text fill="#86cfc4" transform="translate(1893 1322) scale(1.15 1)">−20 ℃</text>
<text fill="#4d4d4d" transform="translate(1937 1369) scale(1.15 1)">−40 ℃</text>
<text fill="#4d4d4d" transform="translate(1994 1414) scale(1.15 1)">−60 ℃</text>
<text fill="#4d4d4d" transform="translate(2089 1449) scale(1.15 1)">−80 ℃</text>
<text fill="#4d4d4d" transform="translate(2165 1410) scale(1.15 1)">−60 ℃</text>
<text fill="#4d4d4d" transform="translate(2222 1367) scale(1.15 1)">−40 ℃</text>
<text fill="#86cfc4" transform="translate(2282 1322) scale(1.15 1)">−20 ℃</text>
</g>
<g stroke="#222" stroke-width="2"><path d="M1930.5 1335L1946 1345.5M1994 1378L2007 1388M2054 1425L2071 1431M2184 1433L2199 1423M2234 1388L2252 1376M2288 1345.5L2309 1333"/></g>
<g fill="#222"><polygon points="1950,1348.5 1940,1346 1945,1339"/><polygon points="2011,1391.5 2001,1389 2006,1383"/><polygon points="2076,1434.5 2066,1435 2068,1427"/><polygon points="2203,1420.5 2198,1429 2194,1421"/><polygon points="2257,1373 2252,1381 2248,1374"/><polygon points="2314,1330.5 2308,1338 2304,1331"/></g>
<text class="ax" x="2120" y="1880" textLength="307" lengthAdjust="spacingAndGlyphs">Temperature/℃</text>
<text class="ax" text-anchor="middle" textLength="347" lengthAdjust="spacingAndGlyphs" transform="translate(1735 1501) rotate(-90)">Specific capacity/</text>
<text class="ax" text-anchor="middle" textLength="201" lengthAdjust="spacingAndGlyphs" transform="translate(1776 1501) rotate(-90)">(mAh·g<tspan font-size="26" dy="-15">−1</tspan><tspan dy="15">)</tspan></text>
</g>
</svg>
</body></html>
